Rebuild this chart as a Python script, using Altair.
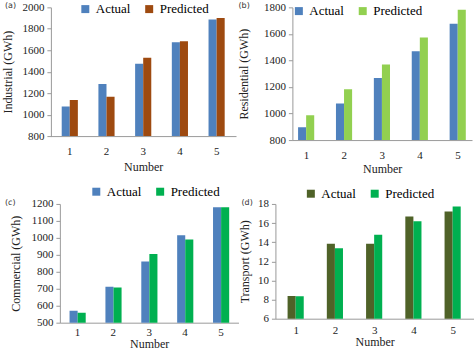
import altair as alt
import pandas as pd

numbers = [1, 2, 3, 4, 5]
series_names = ["Actual", "Predicted"]

industrial_actual = [1075, 1285, 1475, 1675, 1887]
industrial_pred = [1137, 1166, 1531, 1684, 1900]
residential_actual = [897, 1075, 1267, 1470, 1677]
residential_pred = [987, 1182, 1370, 1572, 1782]
commercial_actual = [571, 712, 860, 1016, 1180]
commercial_pred = [559, 707, 905, 990, 1180]
transport_actual = [8.37, 13.83, 13.83, 16.68, 17.2]
transport_pred = [8.35, 13.37, 14.77, 16.19, 17.72]

SERIF = "Liberation Serif"
AXIS_COLOR = "#9a9a9a"


def panel(actual, pred, colors, ytitle, domain, step, w, h, label,
          lx, ly, pad_outer, ytitle_pad, xlabel_pad, xtitle_pad, label_x,
          y_offset=0, x_range=None):
    df = pd.DataFrame({
        "Number": numbers * 2,
        "series": [series_names[0]] * 5 + [series_names[1]] * 5,
        "value": list(actual) + list(pred),
    })
    ticks = []
    v = domain[0]
    while v <= domain[1] + 1e-9:
        ticks.append(v)
        v += step
    xscale = dict(paddingInner=0.56, paddingOuter=pad_outer)
    if x_range is not None:
        xscale["range"] = x_range
    bars = alt.Chart(df).mark_bar(clip=True).encode(
        x=alt.X("Number:O",
                scale=alt.Scale(**xscale),
                axis=alt.Axis(title="Number", labelAngle=0, ticks=False,
                              domain=(y_offset == 0),
                              labelPadding=xlabel_pad,
                              titlePadding=xtitle_pad)),
        xOffset=alt.XOffset("series:N", sort=series_names,
                            scale=alt.Scale(paddingInner=0, paddingOuter=0)),
        y=alt.Y("value:Q",
                scale=alt.Scale(domain=domain, nice=False, zero=False),
                axis=alt.Axis(title=ytitle, values=ticks, grid=False,
                              tickSize=4, labelPadding=3, offset=y_offset,
                              titlePadding=ytitle_pad, format="d")),
        color=alt.Color("series:N", sort=series_names,
                        scale=alt.Scale(domain=series_names, range=colors),
                        legend=alt.Legend(title=None, orient="none",
                                          direction="horizontal",
                                          legendX=lx, legendY=ly,
                                          symbolType="square",
                                          symbolSize=64,
                                          symbolStrokeWidth=0,
                                          labelFont=SERIF,
                                          labelFontSize=13,
                                          columnPadding=12)),
    ).properties(width=w, height=h)
    lab = alt.Chart(pd.DataFrame({"t": [label]})).mark_text(
        font="DejaVu Sans", fontSize=8, align="left", baseline="middle",
        color="#333333"
    ).encode(text="t:N", x=alt.value(label_x), y=alt.value(-1))
    layers = [bars, lab]
    if y_offset != 0:
        base = alt.Chart(pd.DataFrame({"t": [label]})).mark_rule(
            color=AXIS_COLOR, strokeWidth=1
        ).encode(x=alt.value(-y_offset), x2=alt.value(w),
                 y=alt.value(h + 0.5))
        layers.append(base)
    return alt.layer(*layers).resolve_scale(color="independent")


a = panel(industrial_actual, industrial_pred, ["#4F81BD", "#9E4A10"],
          "Industrial (GWh)", [800, 2000], 200, 177, 129, "(a)",
          19, -5, 0.05, 7, 9, 5, -55, y_offset=9, x_range=[0, 167])
b = panel(residential_actual, residential_pred, ["#4F81BD", "#92D050"],
          "Residential (GWh)", [800, 1800], 200, 180, 133, "(b)",
          0, -3, 0.15, 13, 9, 3, -54)
c = panel(commercial_actual, commercial_pred, ["#4F81BD", "#00B050"],
          "Commercial  (GWh)", [500, 1200], 100, 179, 119, "(c)",
          30, -19, 0.27, 8, 4, 1, -55)
d = panel(transport_actual, transport_pred, ["#4F6228", "#00B050"],
          "Transport (GWh)", [6, 18], 2, 199, 115, "(d)",
          29, -17, 0.31, 6, 6, 1, -34)

chart = alt.vconcat(
    alt.hconcat(a, b, spacing=0),
    alt.hconcat(c, d, spacing=0),
    spacing=11,
).properties(padding={"left": 2, "top": 1, "right": 0, "bottom": 0}
).configure_view(stroke=None).configure_axis(
    labelFont=SERIF, labelFontSize=11, titleFont=SERIF, titleFontSize=12,
    titleFontWeight="normal", labelColor="#222222", titleColor="#222222",
    domainColor=AXIS_COLOR, tickColor=AXIS_COLOR,
)

chart.save("out.html", embed_options={"renderer": "svg", "actions": False})
